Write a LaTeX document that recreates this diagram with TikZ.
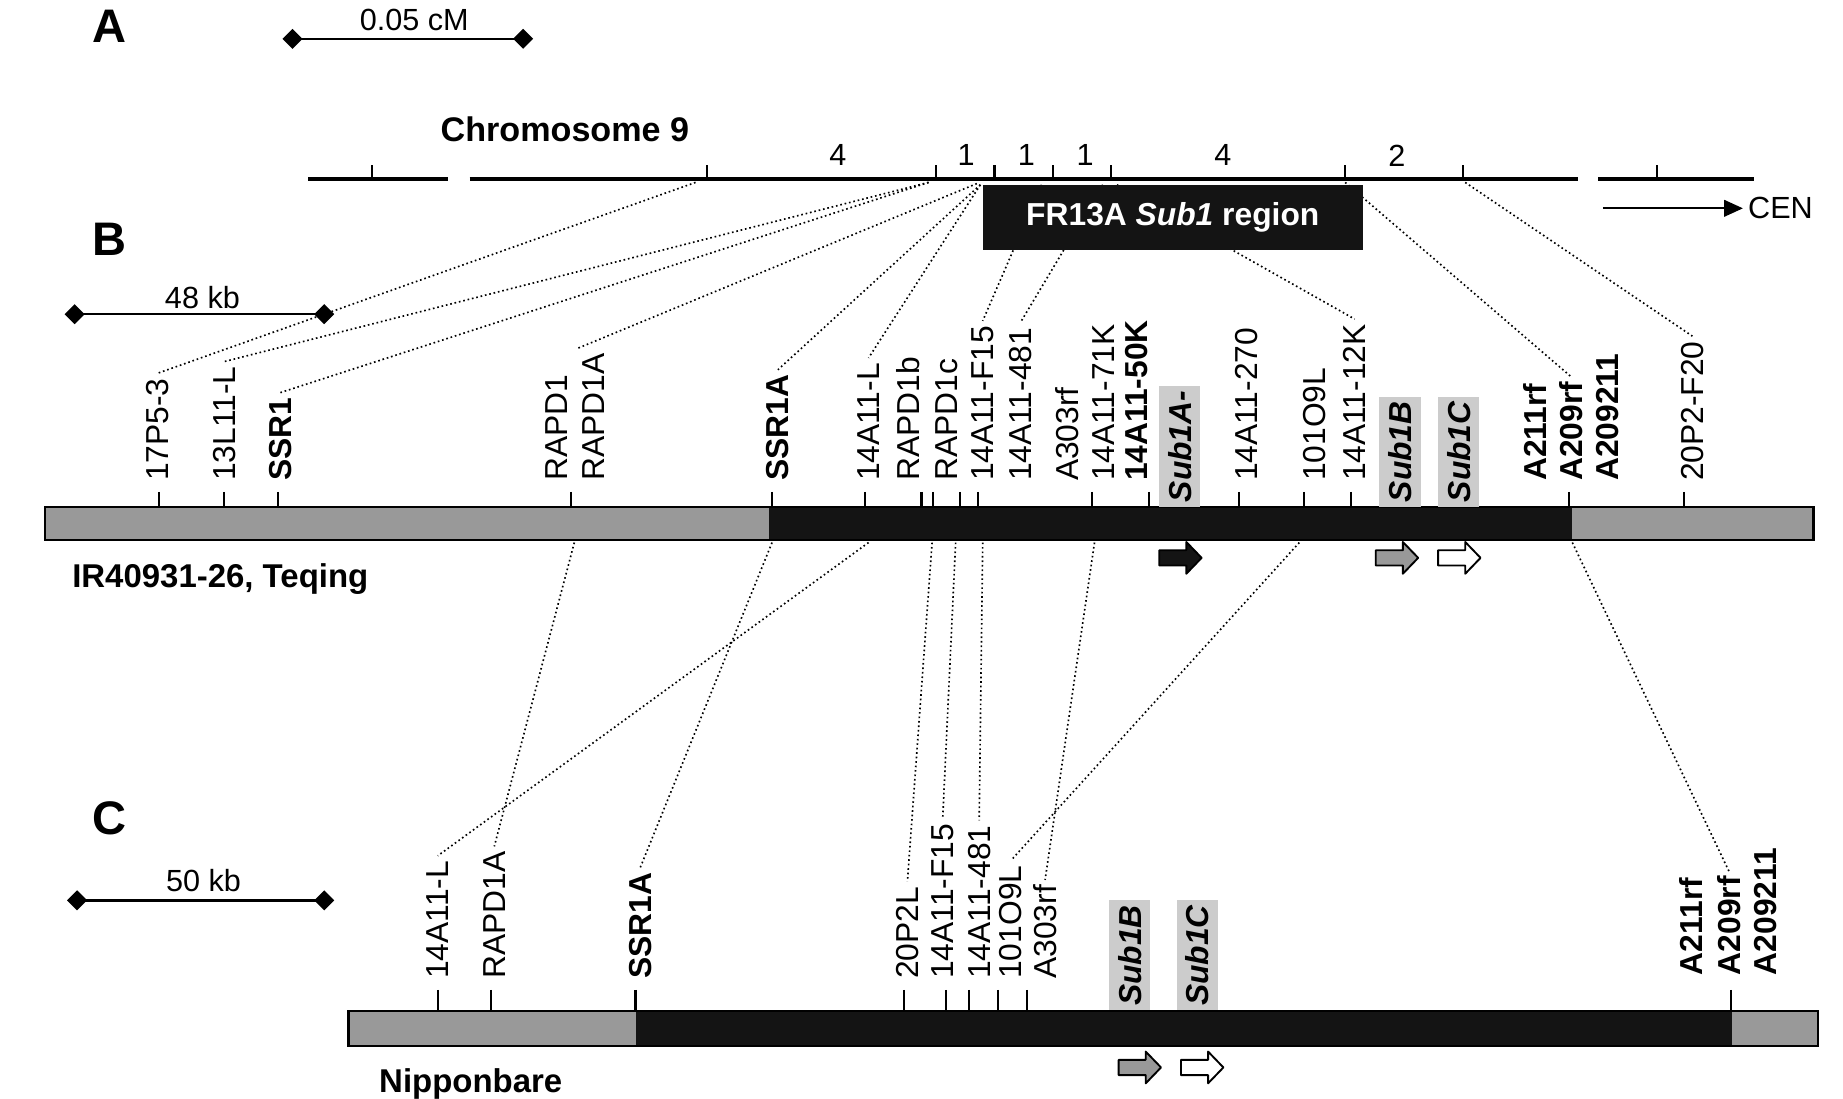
\documentclass[tikz,border=0pt]{standalone}
\usepackage{fontspec}
\setmainfont{Liberation Sans}
\usetikzlibrary{arrows.meta}
\definecolor{bargray}{gray}{0.6}
\definecolor{boxgray}{gray}{0.8}
\definecolor{barblack}{gray}{0.08}
\begin{document}
\begin{tikzpicture}[x=0.5pt,y=-0.5pt,
    mk/.style={rotate=90,anchor=west,inner sep=2pt,font=\fontsize{13.5}{15}\selectfont},
    mkb/.style={mk,font=\fontsize{13.5}{15}\selectfont\bfseries},
    genebox/.style={rotate=90,anchor=west,fill=boxgray,inner xsep=2pt,inner ysep=0pt,minimum height=17.5pt,font=\fontsize{13.5}{15}\selectfont\bfseries\itshape},
    panel/.style={font=\fontsize{20}{24}\selectfont\bfseries},
    txt/.style={font=\fontsize{13}{15}\selectfont},
    link/.style={line width=0.7pt,dash pattern=on 0.7pt off 1.2pt},
    tick/.style={line width=0.9pt},
    scalebar/.style={line width=1pt,{Diamond[length=8.5pt,width=8.5pt]}-{Diamond[length=8.5pt,width=8.5pt]}},
    genearrow/.pic={\draw[line width=0.8pt,line join=round,pic actions] (-18,-6.5) -- (5,-6.5) -- (5,-13.5) -- (18,0) -- (5,13.5) -- (5,6.5) -- (-18,6.5) -- cycle;}]
    \useasboundingbox (0,0) rectangle (1566,933);

    % A: chromosome 9
    \node[panel] (pA) at (93,22) {A};
    \draw[scalebar] (240,33) -- (453,33);
    \node[txt] (sA) at (352,17) {0.05 cM};
    \node[font=\fontsize{14.5}{17}\selectfont\bfseries] (chrom) at (480,110) {Chromosome 9};
    \draw[line width=2pt] (262,152) -- (381,152) (399,152) -- (1341,152) (1358,152) -- (1490,152);
    \draw[tick] (316,152) -- (316,140) (601,152) -- (601,140) (795,152) -- (795,140) (845,152) -- (845,140);
    \draw[tick] (895,152) -- (895,140) (944,152) -- (944,140) (1143,152) -- (1143,140) (1243,152) -- (1243,140) (1408,152) -- (1408,140);
    \node[txt] (d1) at (712,132) {4};
    \node[txt] (d2) at (821,132) {1};
    \node[txt] (d3) at (872,132) {1};
    \node[txt] (d4) at (922,132) {1};
    \node[txt] (d5) at (1039,132) {4};
    \node[txt] (d6) at (1187,132) {2};
    \coordinate (ch1) at (591,155);
    \coordinate (ch2) at (789,155);
    \coordinate (ch3) at (830,156);
    \coordinate (ch4) at (833,157);
    \coordinate (ch5) at (885,157);
    \coordinate (ch6) at (937,157);
    \coordinate (ch7) at (949,157);
    \coordinate (ch8) at (1143,155);
    \coordinate (ch9) at (1245,155);
    \node[txt,anchor=west,inner sep=2pt] (cen) at (1481,177) {CEN};
    \draw[line width=1pt,-{Triangle[length=8pt,width=7pt]}] (1362,177) -- (cen.west);

    % B: IR40931-26, Teqing
    \node[panel] (pB) at (93,203) {B};
    \draw[scalebar] (55,267) -- (284,267);
    \node[txt] (sB) at (172,253) {48 kb};
    \fill[bargray] (38,431) rectangle (653,459);
    \fill[barblack] (653,431) rectangle (1336,459);
    \fill[bargray] (1336,431) rectangle (1541,459);
    \draw[line width=1pt] (38,431) rectangle (1541,459);
    \draw[tick] (135,418) -- (135,431) (190,418) -- (190,431) (236,418) -- (236,431) (485,418) -- (485,431);
    \draw[tick] (656,418) -- (656,431) (735,418) -- (735,431) (783,418) -- (783,431) (793,418) -- (793,431);
    \draw[tick] (816,418) -- (816,431) (831,418) -- (831,431) (928,418) -- (928,431) (976,418) -- (976,431);
    \draw[tick] (1053,418) -- (1053,431) (1108,418) -- (1108,431) (1148,418) -- (1148,431) (1333,418) -- (1333,431) (1431,418) -- (1431,431);
    \node[mk] (m17) at (134,413) {17P5-3};
    \node[mk] (m13) at (191,413) {13L11-L};
    \node[mkb] (mssr1) at (238,413) {SSR1};
    \node[mk] (mrapd1) at (473,413) {RAPD1};
    \node[mk] (mrapd1a) at (504,413) {RAPD1A};
    \node[mkb] (mssr1a) at (661,413) {SSR1A};
    \node[mk] (m14l) at (738,413) {14A11-L};
    \node[mk] (mrapd1b) at (772,413) {RAPD1b};
    \node[mk] (mrapd1c) at (804,413) {RAPD1c};
    \node[mk] (mf15) at (835,413) {14A11-F15};
    \node[mk] (m481) at (867,413) {14A11-481};
    \node[mk] (ma303) at (907,413) {A303rf};
    \node[mk] (m71k) at (938,413) {14A11-71K};
    \node[mkb] (m50k) at (966,413) {14A11-50K};
    \node[genebox] (gA) at (1002.5,431) {Sub1A-};
    \node[mk] (m270) at (1059,413) {14A11-270};
    \node[mk] (m101) at (1117,413) {101O9L};
    \node[mk] (m12k) at (1151,413) {14A11-12K};
    \node[genebox] (gB) at (1189.5,431) {Sub1B};
    \node[genebox] (gC) at (1239.5,431) {Sub1C};
    \node[mkb] (ma211) at (1304,413) {A211rf};
    \node[mkb] (ma209) at (1335,413) {A209rf};
    \node[mkb] (ma209211) at (1366,413) {A209211};
    \node[mk] (m20p2) at (1438,413) {20P2-F20};
    \pic[fill=barblack] at (1003,474) {genearrow};
    \pic[fill=bargray] at (1187,474) {genearrow};
    \pic[fill=white] at (1240,474) {genearrow};
    \node[anchor=west,inner sep=0pt,font=\fontsize{14}{17}\selectfont\bfseries] (teq) at (61,492) {IR40931-26, Teqing};

    % dotted links A -> B
    \draw[link] (ch1) -- (m17.east);
    \draw[link] (ch2) -- (m13.east);
    \draw[link] (ch2) -- (mssr1.east);
    \draw[link] (ch3) -- (mrapd1a.north east);
    \draw[link] (ch4) -- (mssr1a.east);
    \draw[link] (ch4) -- (m14l.east);
    \draw[link] (ch5) -- (mf15.east);
    \draw[link] (ch6) -- (m481.east);
    \draw[link] (ch7) -- (m12k.east);
    \draw[link] (ch8) -- (ma209.east);
    \draw[link] (ch9) -- (m20p2.east);
    \node[fill=barblack,text=white,minimum width=161.5pt,minimum height=27.5pt,font=\fontsize{13.5}{16}\selectfont\bfseries] (fr) at (996.5,184.5) {FR13A \textit{Sub1} region};

    % C: Nipponbare
    \node[panel] (pC) at (93,695) {C};
    \draw[scalebar] (57,765) -- (284,765);
    \node[txt] (sC) at (173,748) {50 kb};
    \fill[bargray] (296,859) rectangle (540,889);
    \fill[barblack] (540,859) rectangle (1472,889);
    \fill[bargray] (1472,859) rectangle (1545,889);
    \draw[line width=1pt] (296,859) rectangle (1545,889);
    \draw[tick] (372,841) -- (372,859) (417,841) -- (417,859) (540,841) -- (540,859) (768,841) -- (768,859) (804,841) -- (804,859);
    \draw[tick] (823,841) -- (823,859) (848,841) -- (848,859) (873,841) -- (873,859) (1471,841) -- (1471,859);
    \node[mk] (n14l) at (372,836) {14A11-L};
    \node[mk] (nrapd1a) at (420,836) {RAPD1A};
    \node[mkb] (nssr1a) at (544,836) {SSR1A};
    \node[mk] (n20p2l) at (771,836) {20P2L};
    \node[mk] (nf15) at (801,836) {14A11-F15};
    \node[mk] (n481) at (832,836) {14A11-481};
    \node[mk] (n101) at (859,836) {101O9L};
    \node[mk] (na303) at (888,836) {A303rf};
    \node[genebox] (hB) at (960,859) {Sub1B};
    \node[genebox] (hC) at (1017.5,859) {Sub1C};
    \node[mkb] (na211) at (1437,833) {A211rf};
    \node[mkb] (na209) at (1469,833) {A209rf};
    \node[mkb] (na209211) at (1500,833) {A209211};
    \pic[fill=bargray] at (968.5,907) {genearrow};
    \pic[fill=white] at (1021.5,907) {genearrow};
    \node[font=\fontsize{14}{17}\selectfont\bfseries] (nip) at (400,921) {Nipponbare};

    % dotted links B -> C
    \coordinate (b1) at (488,461);
    \coordinate (b2) at (656,461);
    \coordinate (b3) at (738,461);
    \coordinate (b4) at (792,461);
    \coordinate (b5) at (812,461);
    \coordinate (b6) at (835,461);
    \coordinate (b7) at (930,461);
    \coordinate (b8) at (1104,461);
    \coordinate (b9) at (1336,461);
    \draw[link] (b1) -- (nrapd1a.east);
    \draw[link] (b2) -- (nssr1a.east);
    \draw[link] (b3) -- (n14l.east);
    \draw[link] (b4) -- (n20p2l.east);
    \draw[link] (b5) -- (nf15.east);
    \draw[link] (b6) -- (n481.east);
    \draw[link] (b7) -- (na303.east);
    \draw[link] (b8) -- (n101.east);
    \draw[link] (b9) -- (na209.east);
\end{tikzpicture}
\end{document}
